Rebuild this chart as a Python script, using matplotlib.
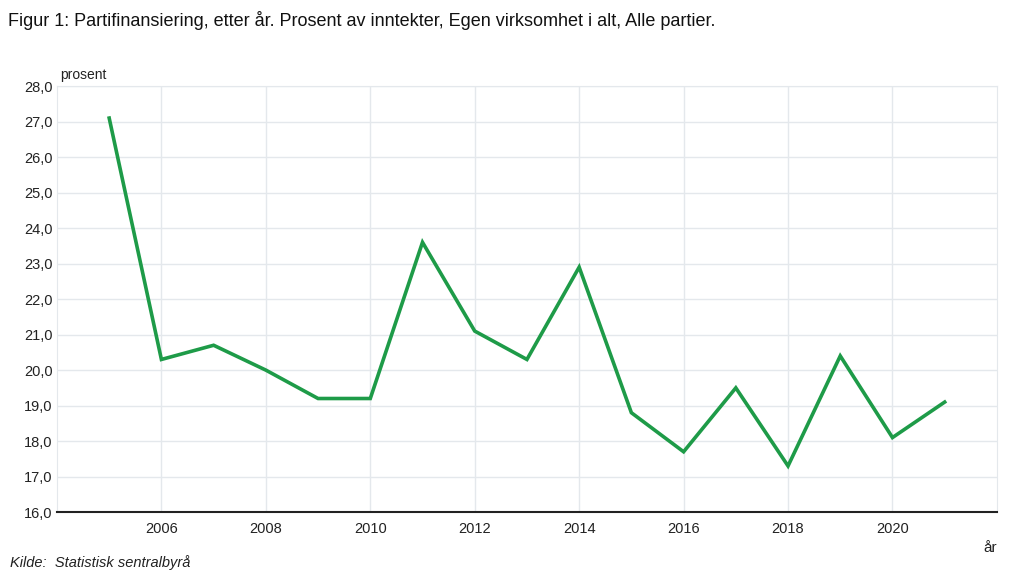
"""Partifinansiering line chart."""

import matplotlib
matplotlib.use('Agg')
import matplotlib.pyplot as plt

years = [2005, 2006, 2007, 2008, 2009, 2010, 2011, 2012, 2013,
         2014, 2015, 2016, 2017, 2018, 2019, 2020, 2021]
prosent = [27.1, 20.3, 20.7, 20.0, 19.2, 19.2, 23.6, 21.1, 20.3,
           22.9, 18.8, 17.7, 19.5, 17.3, 20.4, 18.1, 19.1]
x_ticks = [2006, 2008, 2010, 2012, 2014, 2016, 2018, 2020]
y_ticks = [16, 17, 18, 19, 20, 21, 22, 23, 24, 25, 26, 27, 28]

plt.rcParams['font.family'] = ['Liberation Sans', 'DejaVu Sans']

fig = plt.figure(figsize=(10.32, 5.78), dpi=100)
ax = fig.add_axes([0.0552, 0.114, 0.9108, 0.737])

ax.plot(years, prosent, color='#1e9b48', linewidth=2.6, solid_joinstyle='miter')

ax.set_xlim(2004, 2022)
ax.set_ylim(16, 28)
ax.set_xticks(x_ticks)
ax.set_xticklabels([str(x) for x in x_ticks])
ax.set_yticks(y_ticks)
ax.set_yticklabels([('%.1f' % y).replace('.', ',') for y in y_ticks])
ax.tick_params(length=0, labelsize=10.5, colors='#222222')
ax.tick_params(axis='y', pad=3)
ax.tick_params(axis='x', pad=7)

ax.grid(True, color='#e4e8ec', linewidth=1)
ax.set_axisbelow(True)
for s in ['left', 'top', 'right']:
    ax.spines[s].set_color('#e4e8ec')
ax.spines['bottom'].set_color('#222222')
ax.spines['bottom'].set_linewidth(1.5)

fig.text(0.0078, 0.965, 'Figur 1: Partifinansiering, etter år. Prosent av inntekter, '
         'Egen virksomhet i alt, Alle partier.', fontsize=13, va='center', color='#111111')
fig.text(0.058, 0.870, 'prosent', fontsize=10, va='center', color='#222222')
fig.text(0.953, 0.052, 'år', fontsize=11, va='center', color='#222222')
fig.text(0.0097, 0.026, 'Kilde:  Statistisk sentralbyrå', fontsize=10.5, style='italic',
         va='center', color='#222222')

fig.savefig('out.png', dpi=100)
